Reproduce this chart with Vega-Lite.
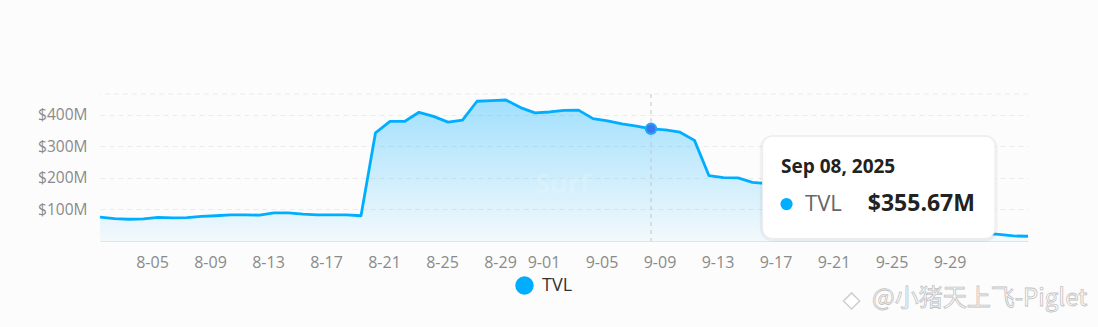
{
  "$schema": "https://vega.github.io/schema/vega-lite/v6.json",
  "width": 928,
  "height": 147,
  "autosize": {"type": "none"},
  "padding": {"left": 100, "top": 94, "right": 70, "bottom": 86},
  "background": "#fcfcfc",
  "config": {"view": {"stroke": null}, "font": "Open Sans"},
  "datasets": {
    "tvl": [
      {"date": "2025-08-01", "v": 76, "s": "TVL"},
      {"date": "2025-08-02", "v": 71, "s": "TVL"},
      {"date": "2025-08-03", "v": 69, "s": "TVL"},
      {"date": "2025-08-04", "v": 70, "s": "TVL"},
      {"date": "2025-08-05", "v": 75, "s": "TVL"},
      {"date": "2025-08-06", "v": 73, "s": "TVL"},
      {"date": "2025-08-07", "v": 74, "s": "TVL"},
      {"date": "2025-08-08", "v": 78, "s": "TVL"},
      {"date": "2025-08-09", "v": 80, "s": "TVL"},
      {"date": "2025-08-10", "v": 83, "s": "TVL"},
      {"date": "2025-08-11", "v": 83, "s": "TVL"},
      {"date": "2025-08-12", "v": 82, "s": "TVL"},
      {"date": "2025-08-13", "v": 89, "s": "TVL"},
      {"date": "2025-08-14", "v": 89, "s": "TVL"},
      {"date": "2025-08-15", "v": 85, "s": "TVL"},
      {"date": "2025-08-16", "v": 83, "s": "TVL"},
      {"date": "2025-08-17", "v": 83, "s": "TVL"},
      {"date": "2025-08-18", "v": 83, "s": "TVL"},
      {"date": "2025-08-19", "v": 80, "s": "TVL"},
      {"date": "2025-08-20", "v": 343, "s": "TVL"},
      {"date": "2025-08-21", "v": 379, "s": "TVL"},
      {"date": "2025-08-22", "v": 379, "s": "TVL"},
      {"date": "2025-08-23", "v": 408, "s": "TVL"},
      {"date": "2025-08-24", "v": 395, "s": "TVL"},
      {"date": "2025-08-25", "v": 377, "s": "TVL"},
      {"date": "2025-08-26", "v": 383, "s": "TVL"},
      {"date": "2025-08-27", "v": 443, "s": "TVL"},
      {"date": "2025-08-28", "v": 445, "s": "TVL"},
      {"date": "2025-08-29", "v": 447, "s": "TVL"},
      {"date": "2025-08-30", "v": 423, "s": "TVL"},
      {"date": "2025-08-31", "v": 406, "s": "TVL"},
      {"date": "2025-09-01", "v": 409, "s": "TVL"},
      {"date": "2025-09-02", "v": 414, "s": "TVL"},
      {"date": "2025-09-03", "v": 415, "s": "TVL"},
      {"date": "2025-09-04", "v": 388, "s": "TVL"},
      {"date": "2025-09-05", "v": 381, "s": "TVL"},
      {"date": "2025-09-06", "v": 371, "s": "TVL"},
      {"date": "2025-09-07", "v": 364, "s": "TVL"},
      {"date": "2025-09-08", "v": 355.67, "s": "TVL"},
      {"date": "2025-09-09", "v": 352, "s": "TVL"},
      {"date": "2025-09-10", "v": 345, "s": "TVL"},
      {"date": "2025-09-11", "v": 319, "s": "TVL"},
      {"date": "2025-09-12", "v": 207, "s": "TVL"},
      {"date": "2025-09-13", "v": 201, "s": "TVL"},
      {"date": "2025-09-14", "v": 200, "s": "TVL"},
      {"date": "2025-09-15", "v": 186, "s": "TVL"},
      {"date": "2025-09-16", "v": 182, "s": "TVL"},
      {"date": "2025-09-17", "v": 170, "s": "TVL"},
      {"date": "2025-09-18", "v": 150, "s": "TVL"},
      {"date": "2025-09-19", "v": 128, "s": "TVL"},
      {"date": "2025-09-20", "v": 110, "s": "TVL"},
      {"date": "2025-09-21", "v": 95, "s": "TVL"},
      {"date": "2025-09-22", "v": 82, "s": "TVL"},
      {"date": "2025-09-23", "v": 70, "s": "TVL"},
      {"date": "2025-09-24", "v": 60, "s": "TVL"},
      {"date": "2025-09-25", "v": 52, "s": "TVL"},
      {"date": "2025-09-26", "v": 45, "s": "TVL"},
      {"date": "2025-09-27", "v": 39, "s": "TVL"},
      {"date": "2025-09-28", "v": 34, "s": "TVL"},
      {"date": "2025-09-29", "v": 30, "s": "TVL"},
      {"date": "2025-09-30", "v": 27, "s": "TVL"},
      {"date": "2025-10-01", "v": 24, "s": "TVL"},
      {"date": "2025-10-02", "v": 21, "s": "TVL"},
      {"date": "2025-10-03", "v": 16, "s": "TVL"},
      {"date": "2025-10-04", "v": 15, "s": "TVL"}
    ]
  },
  "layer": [
    {
      "data": {"values": [{"v": 466}]},
      "mark": {"type": "rule", "color": "#ebebeb", "strokeDash": [5, 4], "strokeWidth": 1},
      "encoding": {"y": {"field": "v", "type": "quantitative", "title": null}}
    },
    {
      "data": {"name": "tvl"},
      "mark": {
        "type": "area",
        "color": {
          "gradient": "linear", "x1": 0, "y1": 1, "x2": 0, "y2": 0,
          "stops": [
            {"offset": 0, "color": "rgba(0,174,255,0.04)"},
            {"offset": 1, "color": "rgba(0,174,255,0.36)"}
          ]
        }
      },
      "encoding": {
        "x": {
          "field": "date", "type": "temporal", "title": null,
          "scale": {"type": "utc", "domain": [{"year": 2025, "month": 8, "date": 1, "utc": true}, {"year": 2025, "month": 10, "date": 4, "utc": true}]},
          "axis": {
            "values": [
              {"year": 2025, "month": 8, "date": 5, "utc": true},
              {"year": 2025, "month": 8, "date": 9, "utc": true},
              {"year": 2025, "month": 8, "date": 13, "utc": true},
              {"year": 2025, "month": 8, "date": 17, "utc": true},
              {"year": 2025, "month": 8, "date": 21, "utc": true},
              {"year": 2025, "month": 8, "date": 25, "utc": true},
              {"year": 2025, "month": 8, "date": 29, "utc": true},
              {"year": 2025, "month": 9, "date": 1, "utc": true},
              {"year": 2025, "month": 9, "date": 5, "utc": true},
              {"year": 2025, "month": 9, "date": 9, "utc": true},
              {"year": 2025, "month": 9, "date": 13, "utc": true},
              {"year": 2025, "month": 9, "date": 17, "utc": true},
              {"year": 2025, "month": 9, "date": 21, "utc": true},
              {"year": 2025, "month": 9, "date": 25, "utc": true},
              {"year": 2025, "month": 9, "date": 29, "utc": true}
            ],
            "format": "%-m-%d",
            "labelColor": "#8a8a8a", "labelFontSize": 16, "labelFont": "Open Sans",
            "labelPadding": 13, "labelOffset": -6, "labelOverlap": false,
            "ticks": false, "grid": false, "domainColor": "#e4e4e4", "domainWidth": 1
          }
        },
        "y": {
          "field": "v", "type": "quantitative", "title": null,
          "scale": {"domain": [0, 466], "nice": false, "zero": true},
          "axis": {
            "values": [100, 200, 300, 400],
            "labelExpr": "'$' + datum.value + 'M'",
            "labelColor": "#8a8a8a", "labelFontSize": 15.5, "labelFont": "Open Sans",
            "labelPadding": 13, "labelOverlap": false, "ticks": false, "domain": false,
            "gridColor": "#ebebeb", "gridDash": [5, 4], "gridWidth": 1
          }
        }
      }
    },
    {
      "data": {"name": "tvl"},
      "mark": {"type": "line", "strokeWidth": 2.8, "strokeJoin": "round"},
      "encoding": {
        "x": {"field": "date", "type": "temporal", "title": null},
        "y": {"field": "v", "type": "quantitative", "title": null},
        "color": {
          "field": "s", "type": "nominal",
          "scale": {"range": ["#00AEFF"]},
          "legend": {
            "orient": "none", "legendX": 415, "legendY": 182, "title": null,
            "padding": 0, "symbolType": "circle", "symbolSize": 90,
            "symbolStrokeWidth": 9, "symbolFillColor": "#00AEFF", "symbolStrokeColor": "#00AEFF",
            "labelFontSize": 18, "labelColor": "#333333", "labelFont": "Open Sans", "labelOffset": 8
          }
        }
      }
    },
    {
      "data": {"values": [{"date": "2025-09-08"}]},
      "mark": {"type": "rule", "color": "#c4c4c4", "strokeDash": [4, 4], "strokeWidth": 1},
      "encoding": {"x": {"field": "date", "type": "temporal", "title": null}}
    },
    {
      "data": {"values": [{"date": "2025-09-08", "v": 355.67}]},
      "mark": {"type": "point", "filled": true, "fill": "#3b76ee", "stroke": "#22a8f6", "strokeWidth": 2, "size": 110, "opacity": 1},
      "encoding": {
        "x": {"field": "date", "type": "temporal", "title": null},
        "y": {"field": "v", "type": "quantitative", "title": null}
      }
    },
    {
      "data": {"values": [{"date": "2025-09-15T12:00:00Z", "date2": "2025-10-01T22:00:00Z", "v": 336, "v2": -2}]},
      "mark": {"type": "rect", "cornerRadius": 13, "fill": "#000000", "opacity": 0.045},
      "encoding": {
        "x": {"field": "date", "type": "temporal", "title": null},
        "x2": {"field": "date2"},
        "y": {"field": "v", "type": "quantitative", "title": null},
        "y2": {"field": "v2"}
      }
    },
    {
      "data": {"values": [{"date": "2025-09-15T16:50:00Z", "date2": "2025-10-01T17:20:00Z", "v": 332, "v2": 8}]},
      "mark": {"type": "rect", "cornerRadius": 10, "fill": "#ffffff", "stroke": "#ececec", "strokeWidth": 1},
      "encoding": {
        "x": {"field": "date", "type": "temporal", "title": null},
        "x2": {"field": "date2"},
        "y": {"field": "v", "type": "quantitative", "title": null},
        "y2": {"field": "v2"}
      }
    },
    {
      "data": {"values": [{"date": "2025-09-16T23:15:00Z", "v": 234, "t": "Sep 08, 2025"}]},
      "mark": {"type": "text", "align": "left", "baseline": "middle", "fontSize": 19, "fontWeight": "bold", "color": "#222222", "font": "Open Sans"},
      "encoding": {
        "x": {"field": "date", "type": "temporal", "title": null},
        "y": {"field": "v", "type": "quantitative", "title": null},
        "text": {"field": "t"}
      }
    },
    {
      "data": {"values": [{"date": "2025-09-17T08:20:00Z", "v": 117}]},
      "mark": {"type": "point", "filled": true, "shape": "circle", "color": "#00AEFF", "size": 150, "opacity": 1},
      "encoding": {
        "x": {"field": "date", "type": "temporal", "title": null},
        "y": {"field": "v", "type": "quantitative", "title": null}
      }
    },
    {
      "data": {"values": [{"date": "2025-09-18T15:00:00Z", "v": 118, "t": "TVL"}]},
      "mark": {"type": "text", "align": "left", "baseline": "middle", "fontSize": 22, "color": "#666666", "font": "Open Sans"},
      "encoding": {
        "x": {"field": "date", "type": "temporal", "title": null},
        "y": {"field": "v", "type": "quantitative", "title": null},
        "text": {"field": "t"}
      }
    },
    {
      "data": {"values": [{"date": "2025-09-30T08:10:00Z", "v": 118, "t": "$355.67M"}]},
      "mark": {"type": "text", "align": "right", "baseline": "middle", "fontSize": 23, "fontWeight": "bold", "color": "#222222", "font": "Open Sans"},
      "encoding": {
        "x": {"field": "date", "type": "temporal", "title": null},
        "y": {"field": "v", "type": "quantitative", "title": null},
        "text": {"field": "t"}
      }
    },
    {
      "data": {"values": [{"date": "2025-08-31T00:00:00Z", "v": 179, "t": "Surf"}]},
      "mark": {"type": "text", "align": "left", "baseline": "middle", "fontSize": 27, "fontWeight": "bold", "color": "#ffffff", "opacity": 0.15, "font": "Open Sans"},
      "encoding": {
        "x": {"field": "date", "type": "temporal", "title": null},
        "y": {"field": "v", "type": "quantitative", "title": null},
        "text": {"field": "t"}
      }
    },
    {
      "data": {"values": [{"date": "2025-09-21T20:00:00Z", "v": -190}]},
      "mark": {"type": "point", "shape": "diamond", "size": 260, "stroke": "#cfcfcf", "strokeWidth": 1.5, "fill": "#ffffff", "filled": false, "opacity": 1},
      "encoding": {
        "x": {"field": "date", "type": "temporal", "title": null},
        "y": {"field": "v", "type": "quantitative", "title": null}
      }
    },
    {
      "data": {"values": [{"date": "2025-09-23T05:45:00Z", "v": -185, "t": "@小猪天上飞-Piglet"}]},
      "mark": {"type": "text", "align": "left", "baseline": "middle", "fontSize": 24, "fill": "#ffffff", "stroke": "#c2c2c2", "strokeWidth": 0.8, "font": "Noto Sans CJK SC"},
      "encoding": {
        "x": {"field": "date", "type": "temporal", "title": null},
        "y": {"field": "v", "type": "quantitative", "title": null},
        "text": {"field": "t"}
      }
    }
  ]
}
